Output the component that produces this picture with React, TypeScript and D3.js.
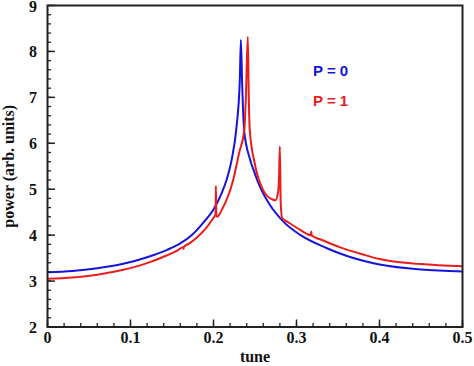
import * as d3 from 'd3'

// tune vs power
const blueTune = [0, 0.03, 0.06, 0.09, 0.12, 0.144, 0.16, 0.175, 0.19, 0.2, 0.21, 0.2157, 0.222, 0.2277, 0.2317, 0.233, 0.2345, 0.237, 0.2437, 0.25, 0.2558, 0.2678, 0.2839, 0.304, 0.336, 0.36, 0.4, 0.45, 0.5]
const bluePower = [3.19, 3.22, 3.28, 3.37, 3.52, 3.68, 3.82, 4.02, 4.32, 4.56, 4.92, 5.2, 5.65, 6.35, 7.38, 8.25, 7.3, 6.27, 5.67, 5.33, 5.06, 4.66, 4.3, 4.01, 3.72, 3.55, 3.36, 3.25, 3.21]

const redTune = [0, 0.03, 0.06, 0.09, 0.12, 0.14, 0.155, 0.1638, 0.164, 0.1643, 0.17, 0.18, 0.19, 0.2, 0.2025, 0.2028, 0.2035, 0.2045, 0.21, 0.2237, 0.231, 0.237, 0.2389, 0.2413, 0.2425, 0.2437, 0.2497, 0.2598, 0.2718, 0.2745, 0.2775, 0.279, 0.2799, 0.281, 0.2827, 0.29, 0.304, 0.317, 0.3178, 0.3182, 0.33, 0.352, 0.38, 0.4, 0.45, 0.5]
const redPower = [3.05, 3.08, 3.14, 3.24, 3.39, 3.53, 3.65, 3.74, 3.7, 3.745, 3.81, 3.95, 4.13, 4.38, 4.45, 5.07, 4.44, 4.4, 4.55, 5.2, 5.8, 6.27, 6.94, 8.32, 7.0, 6.29, 5.56, 4.98, 4.77, 4.76, 4.9, 5.3, 5.93, 4.7, 4.37, 4.28, 4.12, 4.0, 4.08, 3.99, 3.9, 3.74, 3.58, 3.48, 3.37, 3.32]

const xTicks = [0, 0.1, 0.2, 0.3, 0.4, 0.5]
const yTicks = [2, 3, 4, 5, 6, 7, 8, 9]

const legend = [
  { label: 'P = 0', color: '#1414dc' },
  { label: 'P = 1', color: '#ec1c1c' },
]

const W = 474
const H = 366
const margin = { top: 5.5, right: 11.5, bottom: 39, left: 47.5 }

export default function App() {
  const x = d3.scaleLinear().domain([0, 0.5]).range([margin.left, W - margin.right])
  const y = d3.scaleLinear().domain([2, 9]).range([H - margin.bottom, margin.top])

  const line = d3.line<[number, number]>()
    .x(d => x(d[0]))
    .y(d => y(d[1]))
    .curve(d3.curveMonotoneX)

  const blue = blueTune.map((t, i) => [t, bluePower[i]] as [number, number])
  const red = redTune.map((t, i) => [t, redPower[i]] as [number, number])

  const xMinor = d3.range(0, 0.5001, 0.02)
  const yMinor = d3.range(2, 9.0001, 0.2)
  const serif = '"Liberation Serif", "Times New Roman", serif'
  const sans = '"Liberation Sans", Arial, sans-serif'
  const x0 = x(0), x1 = x(0.5), y0 = y(2), y1 = y(9)

  return (
    <svg width={W} height={H} style={{ position: 'absolute', left: 0, top: 0, background: '#fff' }}>
      <path d={line(blue) ?? ''} fill="none" stroke={legend[0].color} strokeWidth={2} />
      <path d={line(red) ?? ''} fill="none" stroke={legend[1].color} strokeWidth={2} />

      {/* minor ticks */}
      {xMinor.map((t, i) => (
        <line key={'xm' + i} x1={x(t)} x2={x(t)} y1={y0} y2={y0 - 4} stroke="#222" strokeWidth={1.3} />
      ))}
      {yMinor.map((v, i) => (
        <line key={'ym' + i} x1={x0} x2={x0 + 3.5} y1={y(v)} y2={y(v)} stroke="#222" strokeWidth={1.3} />
      ))}
      {/* major ticks */}
      {xTicks.map(t => (
        <line key={'xM' + t} x1={x(t)} x2={x(t)} y1={y0} y2={y0 - 7.5} stroke="#222" strokeWidth={1.5} />
      ))}
      {yTicks.map(v => (
        <line key={'yM' + v} x1={x0} x2={x0 + 7.5} y1={y(v)} y2={y(v)} stroke="#222" strokeWidth={1.5} />
      ))}

      <rect x={x0} y={y1} width={x1 - x0} height={y0 - y1} fill="none" stroke="#222" strokeWidth={2} />

      {xTicks.map(t => (
        <text key={'xl' + t} x={x(t)} y={343} textAnchor="middle" fontFamily={serif} fontWeight="bold" fontSize={16} fill="#111">
          {t === 0 ? '0' : String(t)}
        </text>
      ))}
      {yTicks.map(v => (
        <text key={'yl' + v} x={37} y={Math.max(y(v) + 5.5, 12)} textAnchor="end" fontFamily={serif} fontWeight="bold" fontSize={16} fill="#111">
          {v}
        </text>
      ))}

      <text x={(x0 + x1) / 2} y={362} textAnchor="middle" fontFamily={serif} fontWeight="bold" fontSize={16} fill="#111">tune</text>
      <text transform={`translate(14,${(y0 + y1) / 2}) rotate(-90)`} textAnchor="middle" fontFamily={serif} fontWeight="bold" fontSize={16} fill="#111">
        power (arb. units)
      </text>

      {legend.map((l, i) => (
        <text key={l.label} x={313} y={75.5 + i * 30} fontFamily={sans} fontWeight="bold" fontSize={15} fill={l.color}>
          {l.label}
        </text>
      ))}
    </svg>
  )
}
